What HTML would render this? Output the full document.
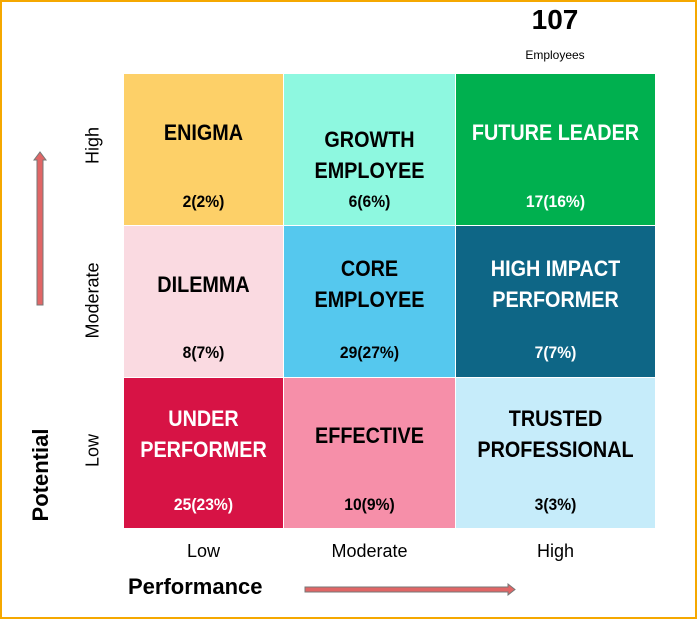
<!DOCTYPE html>
<html><head><style>
*{margin:0;padding:0;box-sizing:border-box}
body{width:697px;height:619px;background:#fff;font-family:"Liberation Sans",sans-serif;position:relative;overflow:hidden}
.frame{position:absolute;left:0;top:0;width:697px;height:619px;border:2px solid #f5a800}
.c{position:absolute;text-align:center}
.t{position:absolute;left:-20px;right:-20px;font-size:22px;line-height:31px;font-weight:bold;transform:scaleX(0.9)}
.n{position:absolute;left:0;right:0;font-size:17px;font-weight:bold;transform:scaleX(0.92)}
.lbl{position:absolute;font-size:18px;color:#000}
.rot{position:absolute;transform:rotate(-90deg);transform-origin:center;white-space:nowrap;text-align:center}
</style></head><body>
<div class="frame"></div>
<div class="c" style="left:505px;top:4px;width:100px;font-size:28px;font-weight:bold">107</div>
<div class="c" style="left:505px;top:48px;width:100px;font-size:12px">Employees</div>

<div class="c" style="left:124px;top:74px;width:159px;height:151px;background:#fdd068">
<div class="t" style="top:43px">ENIGMA</div><div class="n" style="top:118px">2(2%)</div></div>
<div class="c" style="left:284px;top:74px;width:171px;height:151px;background:#8ef8e0">
<div class="t" style="top:50px">GROWTH<br>EMPLOYEE</div><div class="n" style="top:118px">6(6%)</div></div>
<div class="c" style="left:456px;top:74px;width:199px;height:151px;background:#00b04f;color:#fff">
<div class="t" style="top:43px">FUTURE LEADER</div><div class="n" style="top:118px">17(16%)</div></div>

<div class="c" style="left:124px;top:226px;width:159px;height:151px;background:#fadae1">
<div class="t" style="top:43px">DILEMMA</div><div class="n" style="top:117px">8(7%)</div></div>
<div class="c" style="left:284px;top:226px;width:171px;height:151px;background:#55c8ee">
<div class="t" style="top:27px">CORE<br>EMPLOYEE</div><div class="n" style="top:117px">29(27%)</div></div>
<div class="c" style="left:456px;top:226px;width:199px;height:151px;background:#0e6686;color:#fff">
<div class="t" style="top:27px">HIGH IMPACT<br>PERFORMER</div><div class="n" style="top:117px">7(7%)</div></div>

<div class="c" style="left:124px;top:378px;width:159px;height:150px;background:#d71345;color:#fff">
<div class="t" style="top:25px">UNDER<br>PERFORMER</div><div class="n" style="top:117px">25(23%)</div></div>
<div class="c" style="left:284px;top:378px;width:171px;height:150px;background:#f68fa9">
<div class="t" style="top:42px">EFFECTIVE</div><div class="n" style="top:117px">10(9%)</div></div>
<div class="c" style="left:456px;top:378px;width:199px;height:150px;background:#c6ecfa">
<div class="t" style="top:25px">TRUSTED<br>PROFESSIONAL</div><div class="n" style="top:117px">3(3%)</div></div>

<div class="rot" style="left:53px;top:135px;width:80px;font-size:18px">High</div>
<div class="rot" style="left:43px;top:290px;width:100px;font-size:18px">Moderate</div>
<div class="rot" style="left:53px;top:440px;width:80px;font-size:18px">Low</div>
<div class="rot" style="left:-14px;top:462px;width:110px;font-size:22px;font-weight:bold">Potential</div>

<div class="lbl c" style="left:124px;top:541px;width:159px">Low</div>
<div class="lbl c" style="left:284px;top:541px;width:171px">Moderate</div>
<div class="lbl c" style="left:456px;top:541px;width:199px">High</div>
<div class="lbl" style="left:128px;top:574px;font-size:22px;font-weight:bold;transform:scaleX(1.0);transform-origin:left">Performance</div>

<svg style="position:absolute;left:0;top:0" width="697" height="619">
<polygon points="37,305 43,305 43,160 46,160 40,152 34,160 37,160" fill="#e06666" stroke="#777" stroke-width="1"/>
<polygon points="305,587 508,587 508,584 515,589.5 508,595 508,592 305,592" fill="#e06666" stroke="#777" stroke-width="1"/>
</svg>
</body></html>
